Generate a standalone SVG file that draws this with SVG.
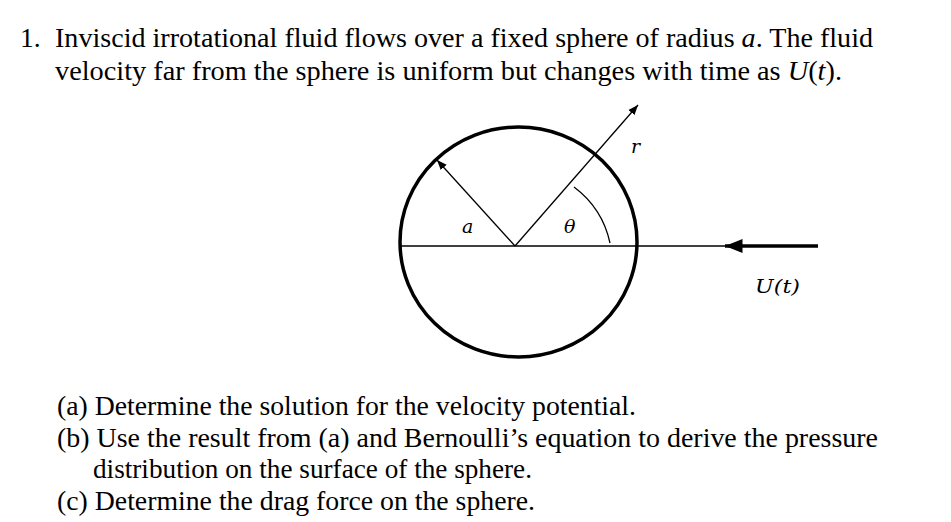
<svg xmlns="http://www.w3.org/2000/svg" width="951" height="522" viewBox="0 0 951 522">
<defs>
<style>
.t{font-family:"Liberation Serif",serif;font-size:27.5px;fill:#000}
.m{font-family:"DejaVu Serif",serif;font-style:italic;font-size:19px;fill:#000}
.thin{stroke:#000;stroke-width:1.3;fill:none}
</style>
<marker id="ah" viewBox="0 0 10 10" refX="10" refY="5" markerWidth="10" markerHeight="10" markerUnits="userSpaceOnUse" orient="auto"><path d="M0,1 L10,5 L0,9 z" fill="#000"/></marker>
<marker id="ah2" viewBox="0 0 10 10" refX="10" refY="5" markerWidth="6" markerHeight="5" orient="auto"><path d="M0,1 L10,5 L0,9 z" fill="#000"/></marker>
</defs>
<rect width="951" height="522" fill="#fff"/>
<text class="t" x="20" y="47">1.</text>
<text class="t" x="55" y="47" textLength="818" lengthAdjust="spacingAndGlyphs">Inviscid irrotational fluid flows over a fixed sphere of radius <tspan font-style="italic">a</tspan>. The fluid</text>
<text class="t" x="55" y="80" textLength="787" lengthAdjust="spacingAndGlyphs">velocity far from the sphere is uniform but changes with time as <tspan font-style="italic">U</tspan>(<tspan font-style="italic">t</tspan>).</text>
<g id="sphere"><ellipse cx="518.5" cy="242" rx="118.5" ry="115" fill="none" stroke="#000" stroke-width="3.5"/></g>
<g id="connectors">
<line class="thin" x1="400" y1="246" x2="818" y2="246"/>
<line class="thin" x1="515" y1="246" x2="638" y2="105" marker-end="url(#ah)"/>
<line class="thin" x1="515" y1="246" x2="437" y2="160" marker-end="url(#ah)"/>
<path class="thin" d="M574,187 A95,95 0 0 1 610,243"/>
<line x1="818" y1="246" x2="725" y2="246" stroke="#000" stroke-width="3.5" marker-end="url(#ah2)"/>
</g>
<text class="m" x="462" y="233">a</text>
<text class="m" x="564" y="233">θ</text>
<text class="m" x="631" y="153">r</text>
<text class="m" x="755" y="293" textLength="45" lengthAdjust="spacingAndGlyphs">U(t)</text>
<text class="t" x="57" y="415" textLength="579" lengthAdjust="spacingAndGlyphs">(a) Determine the solution for the velocity potential.</text>
<text class="t" x="57" y="447" textLength="821" lengthAdjust="spacingAndGlyphs">(b) Use the result from (a) and Bernoulli’s equation to derive the pressure</text>
<text class="t" x="93" y="478" textLength="439" lengthAdjust="spacingAndGlyphs">distribution on the surface of the sphere.</text>
<text class="t" x="57" y="510" textLength="478" lengthAdjust="spacingAndGlyphs">(c) Determine the drag force on the sphere.</text>
</svg>
